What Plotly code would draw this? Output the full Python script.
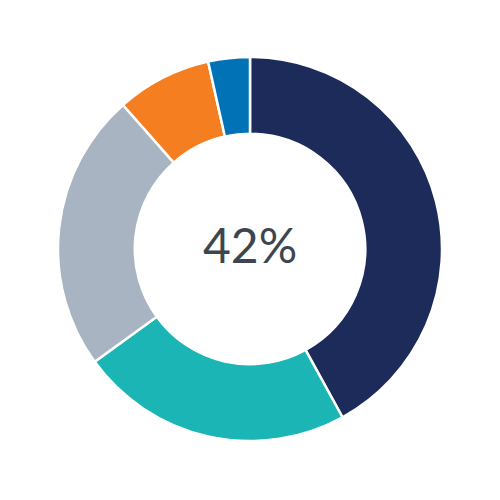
import plotly.graph_objects as go

# donut data -----------------------------------------------------------------
labels = ['Navy', 'Teal', 'Gray', 'Orange', 'Blue']
values = [42, 23, 23.5, 8, 3.5]
colors = ['#1c2b5a', '#1bb5b5', '#a9b4c2', '#f47e20', '#0072b5']
center_label = '42%'

fig = go.Figure()

fig.add_pie(
    labels=labels,
    values=values,
    hole=0.6,
    sort=False,
    direction='clockwise',
    rotation=0,
    textinfo='none',
    marker=dict(colors=colors, line=dict(color='white', width=2.5)),
)

# center text ------------------------------------------------------------------
fig.add_annotation(
    text=center_label,
    x=0.5, y=0.5, xref='paper', yref='paper',
    yshift=5,
    showarrow=False,
    font=dict(family='Lato', size=48, color='#3d4650'),
)

# page body adds 8px offset, so margins are shifted to keep the ring centered
fig.update_layout(
    width=500,
    height=500,
    margin=dict(l=50, r=66, t=49, b=67),
    showlegend=False,
    paper_bgcolor='white',
    plot_bgcolor='white',
)

fig.write_html('out.html')
